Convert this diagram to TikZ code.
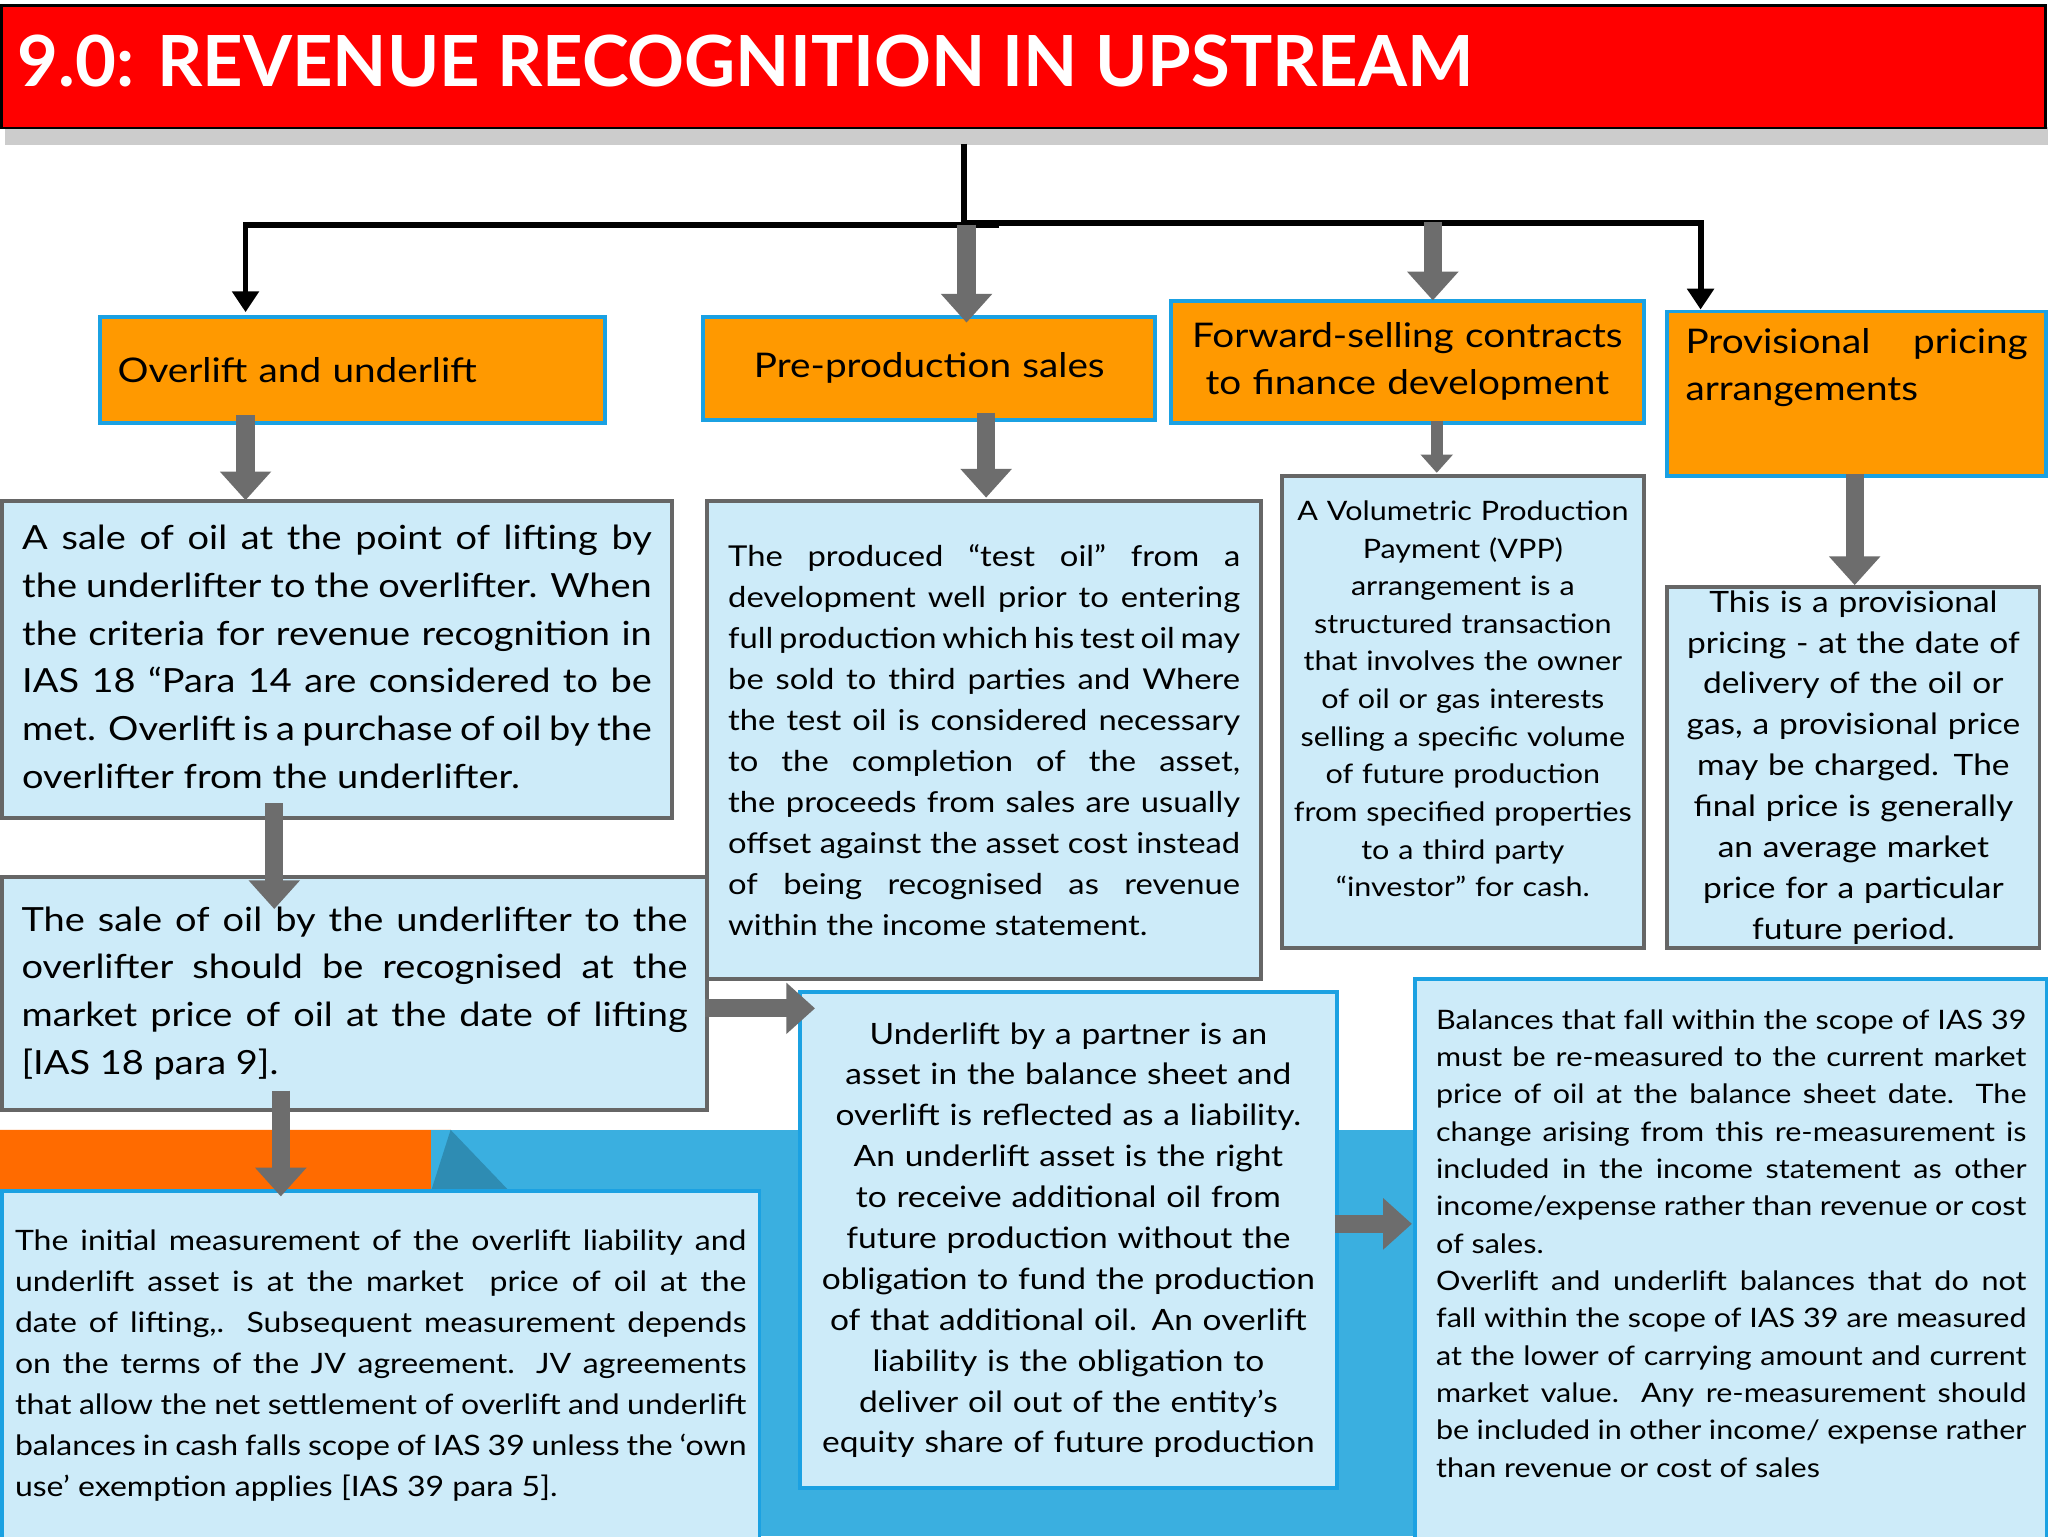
\documentclass[tikz,border=0pt]{standalone}
\usepackage{fontspec}
\setmainfont[FakeStretch=1.14]{Lato}
\newfontfamily\titlefont{Lato}
\usetikzlibrary{arrows.meta}
\definecolor{lb}{HTML}{CDEBF9}
\definecolor{bb}{HTML}{1BA1E2}
\definecolor{og}{HTML}{FF9900}
\definecolor{bg}{HTML}{3AAFE0}
\definecolor{ar}{HTML}{6D6D6D}
\hyphenpenalty=10000 \exhyphenpenalty=10000
\tikzset{
 ob/.style={draw=bb,line width=3pt,fill=og,anchor=north west,inner sep=0pt,font=\fontsize{26}{36}\selectfont},
 tb/.style={draw=gray!80!black,line width=3pt,fill=lb,anchor=north west,inner sep=0pt},
 tbb/.style={tb,draw=bb},
 blk/.style={draw=ar!60!black,line width=14pt,-{Triangle[length=22pt,width=38pt]},ar},
 ln/.style={line width=4.5pt,black},
}
\begin{document}
\begin{tikzpicture}[x=1pt,y=-1pt]
\useasboundingbox (0,0) rectangle (1568,1176);
\fill[white] (0,0) rectangle (1568,1176);
% background
\fill[og!70!red] (0,865) -- (345,865) -- (390,912) -- (0,912) -- cycle;
\fill[bg] (330,865) -- (1568,865) -- (1568,1176) -- (330,1176) -- cycle;
\fill[bg!80!black] (345,865) -- (390,912) -- (330,912) -- cycle;
% title
\fill[gray!40] (4,97) rectangle (1568,111);
\node[draw=black,line width=2pt,fill=red,anchor=north west,minimum width=1565pt,minimum height=94pt,inner sep=0pt] (title) at (0,3) {};
\node[anchor=west,text=white,font=\fontsize{54}{60}\titlefont\bfseries] at (10,47) {9.0: REVENUE RECOGNITION IN UPSTREAM};
% orange boxes
\node[ob,minimum width=387pt,minimum height=81pt,text width=360pt,align=left] (o1) at (75,241) {Overlift and underlift};
\node[ob,minimum width=346pt,minimum height=79pt,text width=320pt,align=center] (o2) at (537,241) {Pre-production sales};
\node[ob,minimum width=362pt,minimum height=93pt,text width=340pt,align=center] (o3) at (895,229) {Forward-selling contracts\\to finance development};
\node[ob,minimum width=290pt,minimum height=126pt,text width=262pt,align=justify] (o4) at (1275,237) {Provisional\hfill pricing arrangements\vspace{40pt}};
% connectors
\coordinate (top) at (738,110);
\coordinate (mid) at (738,171);
\draw[ln] (top) -- (mid);
\draw[ln,-{Triangle[length=16pt,width=20pt]}] (765,172) -| (188,239);
\draw[ln,-{Triangle[length=16pt,width=20pt]}] (mid) -| (1302,237);
\draw[blk] (740,172) -- (740,247);
\draw[blk] (1097,170) -- (1097,230);
% text boxes
\node[tb,minimum width=513pt,minimum height=243pt,text width=482pt,align=justify,font=\fontsize{25.5}{36.5}\selectfont] (a) at (0,382) {A sale of oil at the point of lifting by the underlifter to the overlifter. When the criteria for revenue recognition in IAS 18 “Para 14 are considered to be met. Overlift is a purchase of oil by the overlifter from the underlifter.\vspace{4pt}};
\node[tb,minimum width=424pt,minimum height=366pt,text width=392pt,align=justify,font=\fontsize{22}{31.4}\selectfont] (b) at (540,382) {The produced “test oil” from a development well prior to entering full production which his test oil may be sold to third parties and Where the test oil is considered necessary to the completion of the asset, the proceeds from sales are usually offset against the asset cost instead of being recognised as revenue within the income statement.};
\node[tb,minimum width=277pt,minimum height=361pt,text width=262pt,align=center,font=\fontsize{20.5}{28.8}\selectfont] (c) at (980,363) {A Volumetric Production Payment (VPP) arrangement is a structured transaction that involves the owner of oil or gas interests selling a specific volume of future production from specified properties to a third party “investor” for cash.\vspace{20pt}};
\node[tb,minimum width=285pt,minimum height=276pt,text width=268pt,align=center,font=\fontsize{22.5}{31.3}\selectfont] (d) at (1275,448) {This is a provisional pricing - at the date of delivery of the oil or gas, a provisional price may be charged. The final price is generally an average market price for a particular future period.};
\node[tb,minimum width=540pt,minimum height=178pt,text width=510pt,align=justify,font=\fontsize{25.5}{36.5}\selectfont] (e) at (0,670) {The sale of oil by the underlifter to the overlifter should be recognised at the market price of oil at the date of lifting [IAS 18 para 9].};
\node[tbb,minimum width=411pt,minimum height=380pt,text width=385pt,align=center,font=\fontsize{22.5}{31.3}\selectfont] (f) at (611,758) {Underlift by a partner is an asset in the balance sheet and overlift is reflected as a liability. An underlift asset is the right to receive additional oil from future production without the obligation to fund the production of that additional oil. An overlift liability is the obligation to deliver oil out of the entity’s equity share of future production};
\node[tbb,minimum width=484pt,minimum height=430pt,text width=452pt,align=justify,font=\fontsize{20.5}{28.6}\selectfont] (g) at (1082,748) {Balances that fall within the scope of IAS 39 must be re-measured to the current market price of oil at the balance sheet date. The change arising from this re-measurement is included in the income statement as other income/expense rather than revenue or cost of sales.\\Overlift and underlift balances that do not fall within the scope of IAS 39 are measured at the lower of carrying amount and current market value. Any re-measurement should be included in other income/ expense rather than revenue or cost of sales\vspace{25pt}};
\node[tbb,minimum width=580pt,minimum height=268pt,text width=560pt,align=justify,font=\fontsize{21.5}{31.3}\selectfont] (h) at (0,910) {The initial measurement of the overlift liability and underlift asset is at the market\ \ price of oil at the date of lifting,. Subsequent measurement depends on the terms of the JV agreement. JV agreements that allow the net settlement of overlift and underlift balances in cash falls scope of IAS 39 unless the ‘own use’ exemption applies [IAS 39 para 5].};
% block arrows
\draw[blk] (188,318) -- (188,383);
\draw[blk] (755,316) -- (755,381);
\draw[blk,line width=9pt,-{Triangle[length=14pt,width=24pt]}] (1100,322) -- (1100,362);
\draw[blk] (1420,363) -- (1420,448);
\draw[blk] (210,615) -- (210,696);
\draw[blk] (215,835) -- (215,916);
\draw[blk] (540,772) -- (624,772);
\draw[blk] (1022,937) -- (1081,937);
\end{tikzpicture}
\end{document}
